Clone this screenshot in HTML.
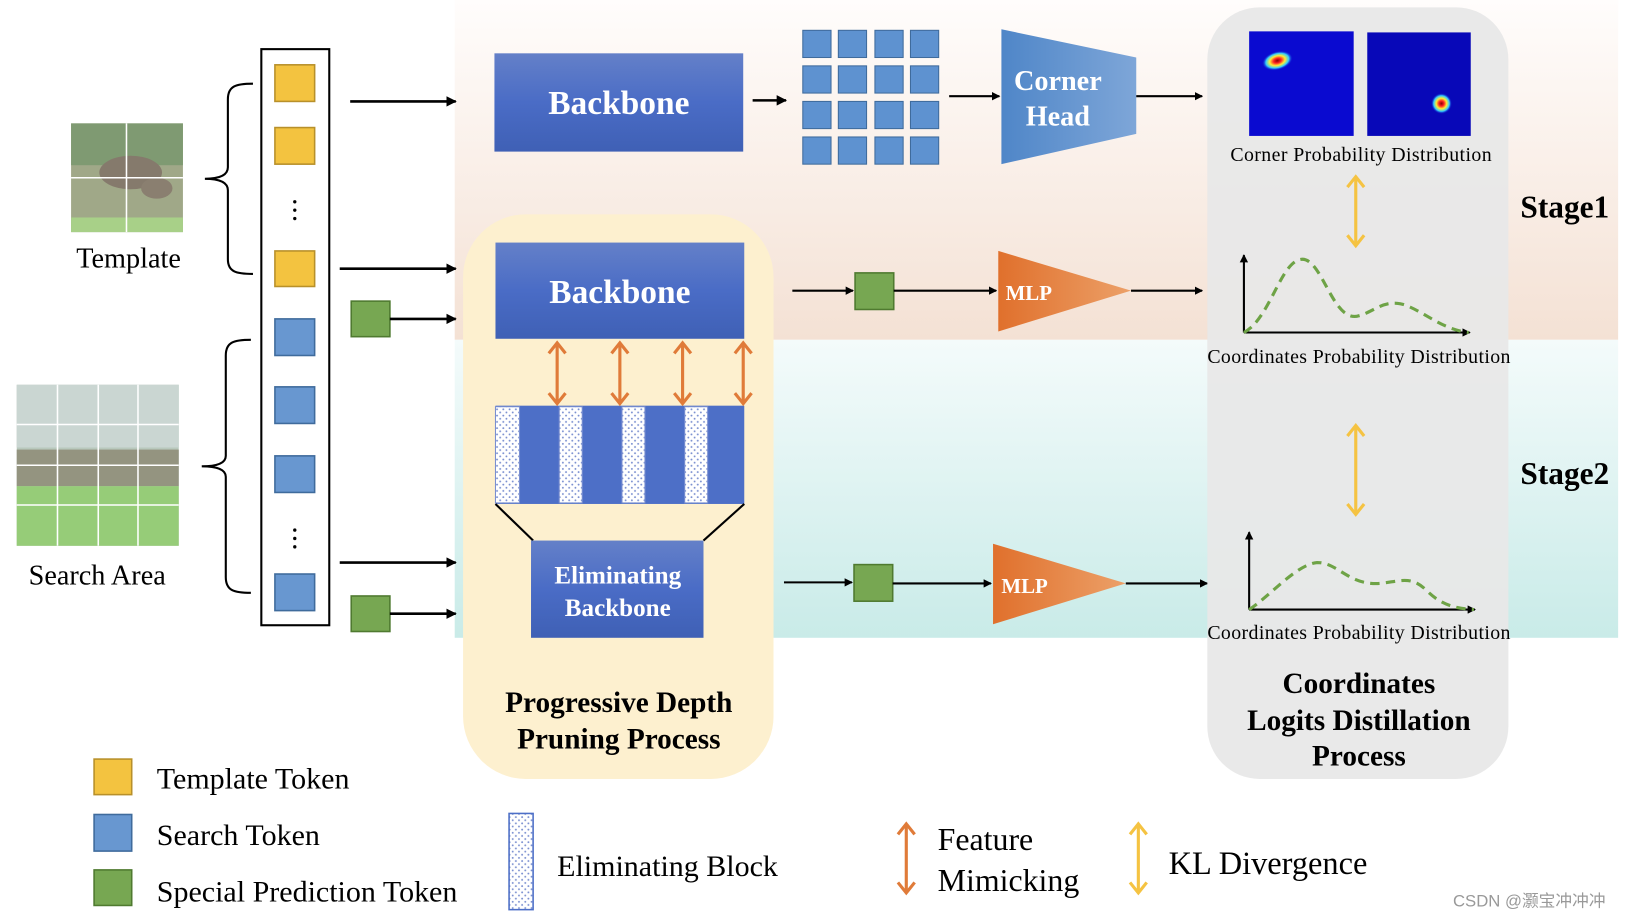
<!DOCTYPE html>
<html><head><meta charset="utf-8"><style>html,body{margin:0;padding:0;background:#fff}svg{display:block}</style></head>
<body>
<svg width="1638" height="918" viewBox="0 0 1567 878" preserveAspectRatio="none" xmlns="http://www.w3.org/2000/svg" font-family="'Liberation Serif', serif">
<defs>
<linearGradient id="peach" x1="0" y1="0" x2="0" y2="1"><stop offset="0" stop-color="#fffdfc"/><stop offset="1" stop-color="#f4e1d4"/></linearGradient>
<linearGradient id="cyan" x1="0" y1="0" x2="0" y2="1"><stop offset="0" stop-color="#f4fbfb"/><stop offset="1" stop-color="#c9ebe8"/></linearGradient>
<linearGradient id="bb" x1="0" y1="0" x2="0" y2="1"><stop offset="0" stop-color="#6480c8"/><stop offset="0.5" stop-color="#4a6cc6"/><stop offset="1" stop-color="#3f60b5"/></linearGradient>
<linearGradient id="ch" x1="0" y1="0" x2="1" y2="0"><stop offset="0" stop-color="#4f86c8"/><stop offset="1" stop-color="#7ea6d8"/></linearGradient>
<linearGradient id="mlp" x1="0" y1="0" x2="1" y2="0"><stop offset="0" stop-color="#e0702c"/><stop offset="1" stop-color="#eca068"/></linearGradient>
<radialGradient id="hs"><stop offset="0" stop-color="#800"/><stop offset="0.25" stop-color="#f22"/><stop offset="0.5" stop-color="#fe3"/><stop offset="0.75" stop-color="#3cf"/><stop offset="1" stop-color="#0a0acc" stop-opacity="0"/></radialGradient>
<pattern id="dots" width="6" height="6" patternUnits="userSpaceOnUse"><rect width="6" height="6" fill="#fff"/><circle cx="1.5" cy="1.5" r="0.9" fill="#7a8fd0"/><circle cx="4.5" cy="4.5" r="0.9" fill="#7a8fd0"/></pattern>
<marker id="ah" markerWidth="8" markerHeight="8" refX="7" refY="4" orient="auto" markerUnits="userSpaceOnUse"><path d="M0,0 L8,4 L0,8 z" fill="#000"/></marker>
<marker id="ah2" markerWidth="10" markerHeight="10" refX="9" refY="5" orient="auto" markerUnits="userSpaceOnUse"><path d="M0,0 L10,5 L0,10 z" fill="#000"/></marker>
</defs>
<rect x="435" y="0" width="1113" height="325" fill="url(#peach)"/>
<rect x="435" y="325" width="1113" height="285" fill="url(#cyan)"/>

<rect x="68" y="118" width="107" height="104" fill="#a0a888"/>
<rect x="68" y="118" width="107" height="40" fill="#7f9a72"/>
<ellipse cx="125" cy="165" rx="30" ry="16" fill="#857a6c"/>
<ellipse cx="150" cy="180" rx="15" ry="10" fill="#8a7f70"/>
<rect x="68" y="208" width="107" height="14" fill="#a8d088"/>
<line x1="121" y1="118" x2="121" y2="222" stroke="#fff" stroke-width="1.5"/><line x1="68" y1="170" x2="175" y2="170" stroke="#fff" stroke-width="1.5"/>
<text x="123" y="256" font-size="27" text-anchor="middle">Template</text>
<rect x="16" y="368" width="155" height="154" fill="#b8c8bc"/>
<rect x="16" y="368" width="155" height="60" fill="#cad6d2"/>
<rect x="16" y="430" width="155" height="35" fill="#949480"/>
<rect x="16" y="465" width="155" height="57" fill="#96cc78"/>
<g stroke="#fff" stroke-width="1.5"><line x1="55" y1="368" x2="55" y2="522"/><line x1="94" y1="368" x2="94" y2="522"/><line x1="132" y1="368" x2="132" y2="522"/><line x1="16" y1="406" x2="171" y2="406"/><line x1="16" y1="445" x2="171" y2="445"/><line x1="16" y1="483" x2="171" y2="483"/></g>
<text x="93" y="559" font-size="27" text-anchor="middle">Search Area</text>

<path d="M242,80 C226,80 218,82 218,95 L218,160 C218,168 210,171 196,171 C210,171 218,174 218,182 L218,248 C218,260 226,262 242,262" fill="none" stroke="#000" stroke-width="2"/>
<path d="M240,325 C224,325 216,327 216,340 L216,436 C216,443 208,446 193,446 C208,446 216,449 216,456 L216,552 C216,565 224,567 240,567" fill="none" stroke="#000" stroke-width="2"/>

<rect x="250" y="47" width="65" height="551" fill="#fff" stroke="#000" stroke-width="2"/>
<g fill="#f3c340" stroke="#b8902a" stroke-width="1.5"><rect x="263" y="62" width="38" height="35"/><rect x="263" y="122" width="38" height="35"/><rect x="263" y="240" width="38" height="34"/><rect x="90" y="726" width="36" height="34"/></g>
<g fill="#6897d0" stroke="#3f6b9c" stroke-width="1.5"><rect x="263" y="305" width="38" height="35"/><rect x="263" y="370" width="38" height="35"/><rect x="263" y="436" width="38" height="35"/><rect x="263" y="549" width="38" height="35"/><rect x="90" y="779" width="36" height="35"/></g>
<g fill="#77a752" stroke="#4f7a30" stroke-width="1.5"><rect x="336" y="288" width="37" height="34"/><rect x="336" y="570" width="37" height="34"/><rect x="818" y="261" width="37" height="35"/><rect x="817" y="540" width="37" height="35"/><rect x="90" y="832" width="36" height="34"/></g>
<g fill="#000"><circle cx="282" cy="193" r="1.6"/><circle cx="282" cy="201" r="1.6"/><circle cx="282" cy="209" r="1.6"/><circle cx="282" cy="507" r="1.6"/><circle cx="282" cy="515" r="1.6"/><circle cx="282" cy="523" r="1.6"/></g>

<g stroke="#000" stroke-width="2.5" marker-end="url(#ah2)"><line x1="335" y1="97" x2="436" y2="97"/><line x1="325" y1="257" x2="436" y2="257"/><line x1="373" y1="305" x2="436" y2="305"/><line x1="325" y1="538" x2="436" y2="538"/><line x1="373" y1="587" x2="436" y2="587"/></g>

<rect x="443" y="205" width="297" height="540" rx="60" fill="#fdf0cf"/>
<rect x="473" y="51" width="238" height="94" fill="url(#bb)"/>
<text x="592" y="109" font-size="32" font-weight="bold" fill="#fff" text-anchor="middle">Backbone</text>
<rect x="474" y="232" width="238" height="92" fill="url(#bb)"/>
<text x="593" y="290" font-size="32" font-weight="bold" fill="#fff" text-anchor="middle">Backbone</text>
<rect x="474" y="388" width="238" height="94" fill="#4d6fc7"/>
<g fill="url(#dots)" stroke="#7a8fd0" stroke-width="1"><rect x="474" y="389" width="23" height="92"/><rect x="535" y="389" width="22" height="92"/><rect x="595" y="389" width="22" height="92"/><rect x="655" y="389" width="22" height="92"/></g>
<g stroke="#e07b39" stroke-width="3" fill="none">
<line x1="533" y1="329" x2="533" y2="385"/><line x1="593" y1="329" x2="593" y2="385"/><line x1="653" y1="329" x2="653" y2="385"/><line x1="711" y1="329" x2="711" y2="385"/>
<path d="M525,338 L533,328 L541,338 M525,376 L533,386 L541,376 M585,338 L593,328 L601,338 M585,376 L593,386 L601,376 M645,338 L653,328 L661,338 M645,376 L653,386 L661,376 M703,338 L711,328 L719,338 M703,376 L711,386 L719,376"/>
</g>
<line x1="474" y1="482" x2="510" y2="517" stroke="#000" stroke-width="2"/><line x1="712" y1="482" x2="673" y2="517" stroke="#000" stroke-width="2"/>
<rect x="508" y="517" width="165" height="93" fill="url(#bb)"/>
<text x="591" y="558" font-size="24" font-weight="bold" fill="#fff" text-anchor="middle">Eliminating</text>
<text x="591" y="589" font-size="24" font-weight="bold" fill="#fff" text-anchor="middle">Backbone</text>
<text x="592" y="681" font-size="28" font-weight="bold" text-anchor="middle">Progressive Depth</text>
<text x="592" y="716" font-size="28" font-weight="bold" text-anchor="middle">Pruning Process</text>

<line x1="720" y1="96" x2="752" y2="96" stroke="#000" stroke-width="2.5" marker-end="url(#ah2)"/>
<g fill="#5e92d0" stroke="#3f6b9c" stroke-width="1">
<rect x="768" y="29" width="27" height="26"/><rect x="802" y="29" width="27" height="26"/><rect x="837" y="29" width="27" height="26"/><rect x="871" y="29" width="27" height="26"/>
<rect x="768" y="63" width="27" height="26"/><rect x="802" y="63" width="27" height="26"/><rect x="837" y="63" width="27" height="26"/><rect x="871" y="63" width="27" height="26"/>
<rect x="768" y="97" width="27" height="26"/><rect x="802" y="97" width="27" height="26"/><rect x="837" y="97" width="27" height="26"/><rect x="871" y="97" width="27" height="26"/>
<rect x="768" y="131" width="27" height="26"/><rect x="802" y="131" width="27" height="26"/><rect x="837" y="131" width="27" height="26"/><rect x="871" y="131" width="27" height="26"/>
</g>
<line x1="908" y1="92" x2="956" y2="92" stroke="#000" stroke-width="2" marker-end="url(#ah)"/>
<polygon points="958,28 1087,55 1087,128 958,157" fill="url(#ch)"/>
<text x="1012" y="86" font-size="27" font-weight="bold" fill="#fff" text-anchor="middle">Corner</text>
<text x="1012" y="120" font-size="27" font-weight="bold" fill="#fff" text-anchor="middle">Head</text>
<line x1="1087" y1="92" x2="1150" y2="92" stroke="#000" stroke-width="2" marker-end="url(#ah)"/>

<line x1="758" y1="278" x2="816" y2="278" stroke="#000" stroke-width="2" marker-end="url(#ah)"/>
<line x1="855" y1="278" x2="953" y2="278" stroke="#000" stroke-width="2" marker-end="url(#ah)"/>
<polygon points="955,240 1082,278 955,317" fill="url(#mlp)"/>
<text x="962" y="287" font-size="20" font-weight="bold" fill="#fff">MLP</text>
<line x1="1082" y1="278" x2="1150" y2="278" stroke="#000" stroke-width="2" marker-end="url(#ah)"/>
<line x1="750" y1="557" x2="815" y2="557" stroke="#000" stroke-width="2" marker-end="url(#ah)"/>
<line x1="854" y1="558" x2="948" y2="558" stroke="#000" stroke-width="2" marker-end="url(#ah)"/>
<polygon points="950,520 1077,558 950,597" fill="url(#mlp)"/>
<text x="958" y="567" font-size="20" font-weight="bold" fill="#fff">MLP</text>
<line x1="1077" y1="558" x2="1155" y2="558" stroke="#000" stroke-width="2" marker-end="url(#ah)"/>

<rect x="1155" y="7" width="288" height="738" rx="50" fill="#e8e8e8" fill-opacity="0.95"/>
<rect x="1195" y="30" width="100" height="100" fill="#0a0ad0"/>
<ellipse cx="1222" cy="58" rx="15" ry="9" fill="url(#hs)" transform="rotate(-15 1222 58)"/>
<rect x="1308" y="31" width="99" height="99" fill="#0808b8"/>
<circle cx="1379" cy="99" r="10" fill="url(#hs)"/>
<text x="1302" y="154" font-size="19" text-anchor="middle" textLength="250">Corner Probability Distribution</text>
<g stroke="#f5c342" stroke-width="3" fill="none">
<line x1="1297" y1="170" x2="1297" y2="234"/><path d="M1289,179 L1297,169 L1305,179 M1289,225 L1297,235 L1305,225"/>
<line x1="1297" y1="408" x2="1297" y2="491"/><path d="M1289,417 L1297,407 L1305,417 M1289,482 L1297,492 L1305,482"/>
<line x1="1089" y1="789" x2="1089" y2="853"/><path d="M1081,798 L1089,788 L1097,798 M1081,844 L1089,854 L1097,844"/>
</g>
<g stroke="#e07b39" stroke-width="3" fill="none">
<line x1="867" y1="789" x2="867" y2="853"/><path d="M859,798 L867,788 L875,798 M859,844 L867,854 L875,844"/>
</g>
<line x1="1190" y1="318" x2="1190" y2="244" stroke="#000" stroke-width="2" marker-end="url(#ah)"/>
<line x1="1190" y1="318" x2="1406" y2="318" stroke="#000" stroke-width="2" marker-end="url(#ah)"/>
<path d="M1190,318 C1215,305 1225,250 1245,248 C1265,246 1275,310 1300,302 C1315,298 1325,285 1345,292 C1365,300 1380,315 1405,318" fill="none" stroke="#6ea346" stroke-width="3" stroke-dasharray="9,6"/>
<text x="1300" y="347" font-size="19" text-anchor="middle" textLength="290">Coordinates Probability Distribution</text>
<line x1="1195" y1="583" x2="1195" y2="509" stroke="#000" stroke-width="2" marker-end="url(#ah)"/>
<line x1="1195" y1="583" x2="1411" y2="583" stroke="#000" stroke-width="2" marker-end="url(#ah)"/>
<path d="M1195,583 C1215,570 1240,540 1260,538 C1280,538 1290,560 1320,558 C1340,556 1350,550 1365,565 C1380,580 1395,582 1410,583" fill="none" stroke="#6ea346" stroke-width="3" stroke-dasharray="9,6"/>
<text x="1300" y="611" font-size="19" text-anchor="middle" textLength="290">Coordinates Probability Distribution</text>
<text x="1300" y="663" font-size="28" font-weight="bold" text-anchor="middle">Coordinates</text>
<text x="1300" y="698" font-size="28" font-weight="bold" text-anchor="middle">Logits Distillation</text>
<text x="1300" y="732" font-size="28" font-weight="bold" text-anchor="middle">Process</text>
<text x="1497" y="208" font-size="30" font-weight="bold" text-anchor="middle">Stage1</text>
<text x="1497" y="463" font-size="30" font-weight="bold" text-anchor="middle">Stage2</text>

<text x="150" y="754" font-size="28.7">Template Token</text>
<text x="150" y="808" font-size="28.7">Search Token</text>
<text x="150" y="862" font-size="28.7">Special Prediction Token</text>
<rect x="487" y="778" width="23" height="92" fill="url(#dots)" stroke="#4d6fc7" stroke-width="1.5"/>
<text x="533" y="838" font-size="28.7">Eliminating Block</text>
<text x="897" y="813" font-size="30.5">Feature</text>
<text x="897" y="852" font-size="30.5">Mimicking</text>
<text x="1118" y="836" font-size="31">KL Divergence</text>
<text x="1390" y="867" font-size="16" fill="#999" font-family="'Liberation Sans','Noto Sans CJK SC',sans-serif">CSDN @灏宝冲冲冲</text>
</svg>
</body></html>
